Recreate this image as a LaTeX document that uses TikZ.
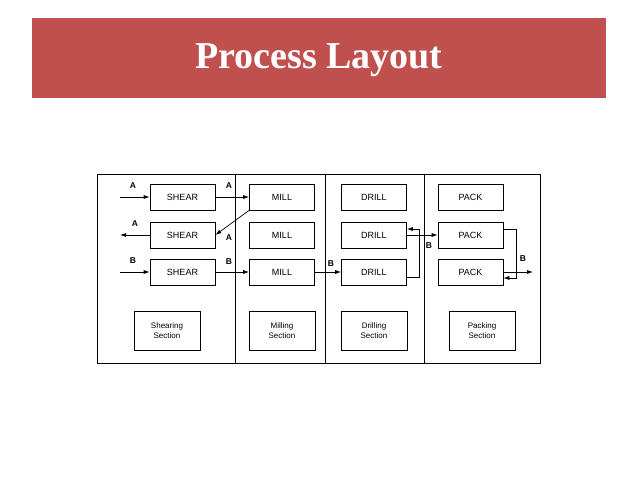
\documentclass[tikz,border=0pt]{standalone}
\usepackage{fontspec}
\setmainfont{Liberation Sans}
\newfontfamily\titlefont{Liberation Serif}
\usetikzlibrary{arrows.meta}
\definecolor{bar}{HTML}{C0504D}
\begin{document}
\begin{tikzpicture}[x=1pt,y=-1pt,
  bx/.style={draw,line width=0.7pt,minimum width=65pt,minimum height=26pt,font=\fontsize{9}{10}\selectfont,inner sep=0},
  sx/.style={draw,line width=0.7pt,minimum width=66pt,minimum height=39pt,font=\fontsize{8}{10}\selectfont,align=center,inner sep=0},
  ar/.style={-{Latex[length=6pt,width=4pt]},line width=0.7pt},
  lb/.style={font=\bfseries\fontsize{8.5}{9}\selectfont,inner sep=0}]
\useasboundingbox (0,0) rectangle (638,479);
\fill[white] (0,0) rectangle (638,479);
\fill[bar] (32,18) rectangle (606,98);
\node[text=white,font=\titlefont\bfseries\fontsize{38}{42}\selectfont] (t) at (319,60) {Process Layout};
\draw[line width=0.7pt] (97,174) rectangle (540,363);
\draw[line width=0.7pt] (235,174) -- (235,363) (325,174) -- (325,363) (424,174) -- (424,363);
\node[bx] (s1) at (182.5,197) {SHEAR};
\node[bx] (s2) at (182.5,235) {SHEAR};
\node[bx] (s3) at (182.5,272) {SHEAR};
\node[bx] (m1) at (282,197) {MILL};
\node[bx] (m2) at (282,235) {MILL};
\node[bx] (m3) at (282,272) {MILL};
\node[bx] (d1) at (374,197) {DRILL};
\node[bx] (d2) at (374,235) {DRILL};
\node[bx] (d3) at (374,272) {DRILL};
\node[bx] (p1) at (470.5,197) {PACK};
\node[bx] (p2) at (470.5,235) {PACK};
\node[bx] (p3) at (470.5,272) {PACK};
\node[sx] (ss) at (167,331) {Shearing\\Section};
\node[sx] (ms) at (282,331) {Milling\\Section};
\node[sx] (ds) at (374,331) {Drilling\\Section};
\node[sx] (ps) at (482,331) {Packing\\Section};
\coordinate (a0) at (120,197);
\coordinate (a1) at (120,235);
\coordinate (b0) at (120,272);
\coordinate (b1) at (533,272);
\draw[ar] (a0) -- (s1);
\draw[ar] (s1) -- (m1);
\draw[ar] (m1.south west) -- (s2.east);
\draw[ar] (s2) -- (a1);
\draw[ar] (b0) -- (s3);
\draw[ar] (s3) -- (m3);
\draw[ar] (m3) -- (d3);
\draw[ar] ([yshift=-5pt]d3.east) -- ++(12,0) |- ([yshift=6pt]d2.east);
\draw[ar] (d2) -- (p2);
\draw[ar] ([yshift=6pt]p2.east) -- ++(13,0) |- ([yshift=-6pt]p3.east);
\draw[ar] (p3) -- (b1);
\node[lb] (l1) at (133,186) {A};
\node[lb] (l2) at (229,186) {A};
\node[lb] (l3) at (229,238) {A};
\node[lb] (l4) at (135,224) {A};
\node[lb] (l5) at (133,261) {B};
\node[lb] (l6) at (229,262) {B};
\node[lb] (l7) at (331,264) {B};
\node[lb] (l8) at (429,246) {B};
\node[lb] (l9) at (523,259) {B};
\end{tikzpicture}
\end{document}
